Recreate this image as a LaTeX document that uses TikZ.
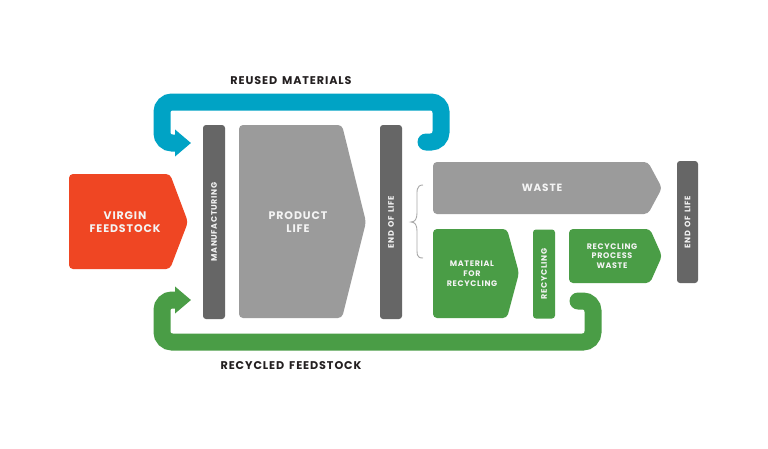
\documentclass[tikz,border=0pt]{standalone}
\usepackage{fontspec}
\setmainfont{Poppins}
\newfontfamily\lblfont[LetterSpace=8,WordSpace=1.5]{Poppins}
\usetikzlibrary{arrows.meta,calc}
\definecolor{cOrange}{HTML}{EF4623}
\definecolor{cGray}{HTML}{9B9B9B}
\definecolor{cDark}{HTML}{666666}
\definecolor{cBlue}{HTML}{00A3C5}
\definecolor{cGreen}{HTML}{4A9D46}
\definecolor{cTxt}{HTML}{231F20}
\definecolor{cIn}{HTML}{F4F4F4}
\definecolor{cBrace}{HTML}{A8A8A8}
\begin{document}
\begin{tikzpicture}[x=1pt,y=-1pt,
  bar/.style={fill=cDark, rounded corners=3pt, inner sep=0pt, text=cIn,
    font=\lblfont\bfseries\fontsize{8}{9}\selectfont, rotate=90},
  intext/.style={text=cIn, align=center, inner sep=0pt,
    font=\lblfont\bfseries\fontsize{11}{13}\selectfont},
  smalltext/.style={text=cIn, align=center, inner sep=0pt,
    font=\lblfont\bfseries\fontsize{8}{10}\selectfont},
  outlbl/.style={text=cTxt, inner sep=0pt, font=\lblfont\bfseries\fontsize{11.2}{13}\selectfont},
  loop/.style={line width=17pt, rounded corners=10pt, line cap=round,
    -{Triangle[length=16pt,width=26pt]}},
  shapebox/.style={rounded corners=4pt}]
\fill[white] (0,0) rectangle (768,448);
\useasboundingbox (0,0) rectangle (768,448);

% arrow-shaped boxes
\fill[cOrange, shapebox] (69,174) -- (170,174) -- (188,222) -- (170,269) -- (69,269) -- cycle;
\node[intext] (virgin) at (125,222) {VIRGIN\\FEEDSTOCK};

\fill[cGray, shapebox] (239,125) -- (342,125) -- (366,222) -- (342,318) -- (239,318) -- cycle;
\node[intext] (product) at (298,222) {PRODUCT\\LIFE};

\fill[cGray, shapebox] (433,162) -- (648,162) -- (662,188) -- (648,214) -- (433,214) -- cycle;
\node[intext, font=\lblfont\bfseries\fontsize{10.5}{12}\selectfont] (waste) at (542,188) {WASTE};

\fill[cGreen, shapebox] (433,229) -- (507,229) -- (519,273) -- (507,318) -- (433,318) -- cycle;
\node[smalltext] (material) at (472,274) {MATERIAL\\FOR\\RECYCLING};

\fill[cGreen, shapebox] (569,229) -- (650,229) -- (662,256) -- (650,283) -- (569,283) -- cycle;
\node[smalltext, font=\lblfont\bfseries\fontsize{8}{9.8}\selectfont] (rpw) at (612,256) {RECYCLING\\PROCESS\\WASTE};

% bars
\node[bar, minimum width=194pt, minimum height=22pt] (mfg) at (214,222) {MANUFACTURING};
\node[bar, minimum width=194pt, minimum height=22pt] (eol1) at (391,222) {END OF LIFE};
\node[bar, minimum width=122pt, minimum height=21pt] (eol2) at (687.5,222) {END OF LIFE};
\node[bar, fill=cGreen, minimum width=89pt, minimum height=22pt] (recyc) at (544,274) {RECYCLING};

% brace
\draw[cBrace, line width=0.9pt] (423,185) .. controls (416,185) and (417,191) .. (417,200)
  -- (417,213) .. controls (417,219) and (415,222) .. (411,222)
  .. controls (415,222) and (417,225) .. (417,231)
  -- (417,245) .. controls (417,254) and (416,258) .. (423,258);

% loops
\coordinate (blueStart) at (426,142);
\coordinate (blueEnd) at (191,143);
\coordinate (greenStart) at (578,301);
\coordinate (greenEnd) at (191,300);
\draw[loop, cBlue] (blueStart) -- (441,142) -- (441,102) -- (162,102) -- (162,143) -- (blueEnd);
\draw[loop, cGreen] (greenStart) -- (593,301) -- (593,342) -- (162,342) -- (162,300) -- (greenEnd);

% labels
\node[outlbl] (reused) at (291,81) {REUSED MATERIALS};
\node[outlbl] (recfeed) at (291,366) {RECYCLED FEEDSTOCK};
\end{tikzpicture}
\end{document}
